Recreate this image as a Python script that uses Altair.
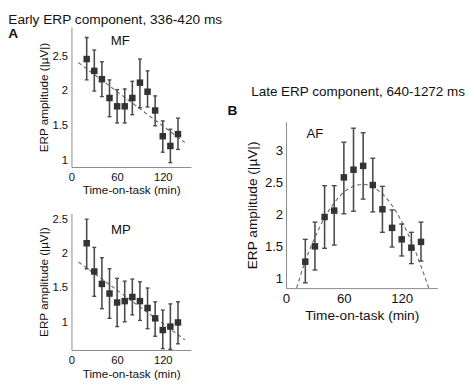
import altair as alt
import pandas as pd

FONT = "Liberation Sans"

# ---- data ----
time = [20, 30, 40, 50, 60, 70, 80, 90, 100, 110, 120, 130, 140]

mf_mean = [2.46, 2.29, 2.17, 1.90, 1.78, 1.78, 1.90, 2.12, 1.99, 1.72, 1.35, 1.21, 1.38]
mf_hi = [2.77, 2.59, 2.42, 2.16, 2.02, 2.03, 2.14, 2.46, 2.29, 1.93, 1.57, 1.45, 1.61]
mf_lo = [2.16, 2.00, 1.92, 1.63, 1.54, 1.54, 1.66, 1.76, 1.77, 1.50, 1.12, 0.97, 1.16]
mf_fit_t = [9, 149]
mf_fit_v = [2.41, 1.26]

mp_mean = [2.15, 1.74, 1.56, 1.42, 1.29, 1.31, 1.37, 1.31, 1.21, 1.06, 0.89, 0.94, 1.00]
mp_hi = [2.50, 2.09, 1.94, 1.78, 1.64, 1.60, 1.63, 1.59, 1.50, 1.30, 1.18, 1.27, 1.30]
mp_lo = [1.78, 1.38, 1.20, 1.06, 0.94, 1.01, 1.11, 1.03, 0.91, 0.80, 0.62, 0.61, 0.69]
mp_fit_t = [9, 149]
mp_fit_v = [1.88, 0.75]

af_mean = [1.26, 1.50, 1.96, 2.06, 2.58, 2.70, 2.76, 2.46, 2.08, 1.79, 1.61, 1.48, 1.57]
af_hi = [1.61, 1.88, 2.45, 2.45, 3.13, 3.35, 3.28, 2.88, 2.44, 2.07, 1.85, 1.72, 1.88]
af_lo = [0.93, 1.13, 1.47, 1.52, 2.01, 2.05, 2.24, 2.04, 1.72, 1.49, 1.35, 1.23, 1.27]
af_fit_t = [11, 20, 30, 40, 50, 60, 70, 80, 90, 100, 110, 120, 130, 140, 148]
af_fit_v = [0.85, 1.27, 1.64, 1.95, 2.18, 2.35, 2.44, 2.47, 2.43, 2.32, 2.14, 1.89, 1.58, 1.19, 0.85]

x_ticks = [0, 60, 120]
ticks_a = [1, 1.5, 2, 2.5]
ticks_b = [1, 1.5, 2, 2.5, 3]

MK = "#333333"
EB = "#4a4a4a"
FIT = "#707070"
AXC = "#8a8a8a"
TXT = "#111111"


def text_layer(txt, x, y, fs, weight="normal"):
    return alt.Chart(pd.DataFrame({"s": [txt]})).mark_text(
        align="left", baseline="alphabetic", fontSize=fs, fontWeight=weight,
        font=FONT, color=TXT
    ).encode(x=alt.value(x), y=alt.value(y), text="s:N")


def panel(mean, lo, hi, fit_t, fit_v, xmax, ydom, yticks, w, h, fs_lab, fs_tit,
          ytitle_x, xtitle_y, lpad_y, lpad_x, texts, spacer_y, cap, interp):
    df = pd.DataFrame({"t": time, "m": mean, "lo": lo, "hi": hi})
    caps = pd.DataFrame({"t": time + time, "v": lo + hi})
    fit = pd.DataFrame({"t": fit_t, "v": fit_v})
    xs = alt.Scale(domain=[0, xmax], nice=False, zero=False)
    ys = alt.Scale(domain=ydom, nice=False, zero=False)
    common = dict(grid=False, ticks=False, domainColor=AXC, domainWidth=1,
                  labelColor=TXT, titleColor=TXT, labelFont=FONT, titleFont=FONT,
                  labelFontSize=fs_lab, titleFontSize=fs_tit, titleFontWeight="normal",
                  labelFlush=False)
    xax = alt.Axis(values=x_ticks, title="Time-on-task (min)", labelPadding=lpad_x,
                   titleY=xtitle_y, titleBaseline="alphabetic", **common)
    yax = alt.Axis(values=yticks, format="~g", title="ERP amplitude (|µV|)",
                   labelPadding=lpad_y, titleX=ytitle_x, titleBaseline="middle", **common)
    X = lambda f: alt.X(f, scale=xs, axis=xax)
    Y = lambda f: alt.Y(f, scale=ys, axis=yax)

    line = alt.Chart(fit).mark_line(color=FIT, strokeDash=[4, 3], strokeWidth=1.2,
                                    interpolate=interp).encode(x=X("t:Q"), y=Y("v:Q"))
    bars = alt.Chart(df).mark_rule(color=EB, strokeWidth=1.6).encode(
        x=X("t:Q"), y=Y("lo:Q"), y2="hi:Q")
    capl = alt.Chart(caps).mark_tick(orient="horizontal", size=cap, thickness=1.4,
                                     color=EB, opacity=1).encode(x=X("t:Q"), y=Y("v:Q"))
    pts = alt.Chart(df).mark_square(size=44, color=MK, opacity=1).encode(
        x=X("t:Q"), y=Y("m:Q"))
    spacer = alt.Chart(pd.DataFrame({"s": [0]})).mark_rule(opacity=0).encode(
        x=alt.value(0), y=alt.value(spacer_y), y2=alt.value(0))
    tl = [text_layer(*t) for t in texts]
    return alt.layer(line, bars, capl, pts, *tl, spacer).properties(width=w, height=h)


mf = panel(mf_mean, mf_lo, mf_hi, mf_fit_t, mf_fit_v, 157, [0.907, 2.92], ticks_a,
           122.3, 143.3, 11.5, 12, -28.7, 27.3, 4, 5,
           [("MF", 40.3, 18, 13.5), ("A", -64.7, 11.6, 14, "bold")],
           -5, 4, "linear")
mp = panel(mp_mean, mp_lo, mp_hi, mp_fit_t, mp_fit_v, 157, [0.6, 2.585], ticks_a,
           122.3, 140, 11.5, 12, -28.7, 28.5, 4, 5,
           [("MP", 40.6, 21.7, 13.5)],
           0, 4, "linear")
pb = panel(af_mean, af_lo, af_hi, af_fit_t, af_fit_v, 157, [0.847, 3.45], ticks_b,
           155, 170.3, 13.5, 14, -34.2, 32, 3.4, 4,
           [("AF", 21, 16.6, 13.5), ("B", -60, -7.2, 14, "bold"),
            ("Late ERP component, 640-1272 ms", -35.7, -26.7, 13.8)],
           0, 5, "monotone")

gap = alt.Chart(pd.DataFrame({"s": [0]})).mark_rule(opacity=0).encode(
    x=alt.value(0), y=alt.value(0), y2=alt.value(1)).properties(width=155, height=96.7)

left = alt.vconcat(mf, mp, spacing=46.7, bounds="flush")
right = alt.vconcat(gap, pb, spacing=0, bounds="flush")
chart = alt.hconcat(left, right, spacing=36.7).properties(
    title=alt.TitleParams("Early ERP component, 336-420 ms", anchor="start", frame="bounds",
                          fontSize=14, font=FONT, fontWeight="normal", color=TXT, offset=-4.5),
    padding=0,
).configure_view(stroke=None)

chart.save("out.html", embed_options={"renderer": "svg", "actions": False})
